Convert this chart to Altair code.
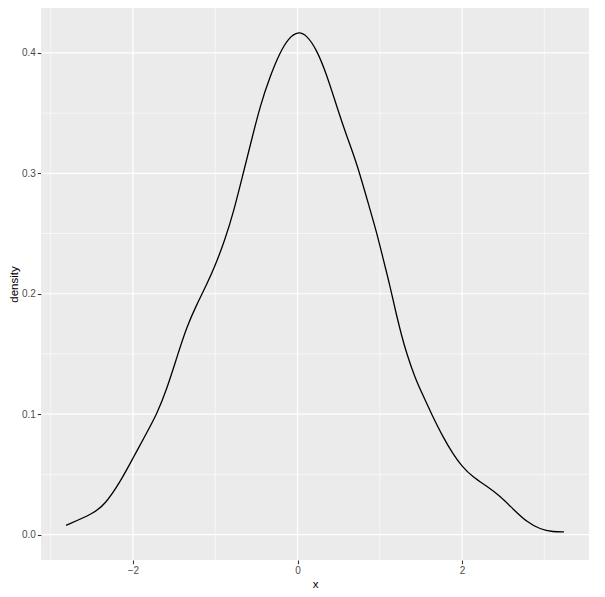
import altair as alt
import pandas as pd

# density curve
xs = [-2.814, -2.482, -2.340, -2.159, -2.003, -1.833, -1.711, -1.590, -1.468, -1.347,
      -1.225, -1.104, -1.003, -0.881, -0.780, -0.659, -0.557, -0.456, -0.334, -0.213,
      -0.112, 0.002, 0.112, 0.233, 0.355, 0.476, 0.598, 0.720, 0.881, 0.963,
      1.043, 1.104, 1.145, 1.206, 1.267, 1.327, 1.428, 1.510, 1.631, 1.772,
      1.894, 1.996, 2.137, 2.300, 2.461, 2.623, 2.786, 2.948, 3.109, 3.239]
ys = [0.0077, 0.0174, 0.0251, 0.0432, 0.0631, 0.0846, 0.0998, 0.1206, 0.1469, 0.1725,
      0.1911, 0.2077, 0.2229, 0.2451, 0.2672, 0.3004, 0.3280, 0.3557, 0.3806, 0.4005,
      0.4120, 0.4180, 0.4148, 0.4027, 0.3820, 0.3557, 0.3308, 0.3087, 0.2700, 0.2506,
      0.2285, 0.2119, 0.2000, 0.1814, 0.1648, 0.1502, 0.1303, 0.1178, 0.0998, 0.0805,
      0.0666, 0.0569, 0.0473, 0.0403, 0.0320, 0.0210, 0.0105, 0.0044, 0.0022, 0.0022]

x_major = [-2, 0, 2]
x_minor = [-3, -1, 1, 3]
y_major = [0.0, 0.1, 0.2, 0.3, 0.4]
y_minor = [0.05, 0.15, 0.25, 0.35]

x_domain = [-3.118, 3.543]
y_domain = [-0.0211, 0.4373]

W, H = 548, 552

xscale = alt.Scale(domain=x_domain, nice=False, zero=False)
yscale = alt.Scale(domain=y_domain, nice=False, zero=False)

axis_common = dict(
    grid=False, domain=False, tickColor="#333333", tickSize=3.7, tickWidth=1.1,
    labelColor="#4D4D4D", labelFontSize=10, labelFont="Liberation Sans",
    titleFont="Liberation Sans", titleFontSize=11.5, titleFontWeight="normal",
    titleColor="black", labelPadding=2,
)
xaxis = alt.Axis(values=x_major, format="d", titleX=W / 2, titleY=27,
                 titleBaseline="alphabetic", **axis_common)
yaxis = alt.Axis(values=y_major, format=".1f", titleX=-27, titleY=H / 2,
                 titleBaseline="middle", titleAngle=270, **axis_common)

curve = pd.DataFrame({"x": xs, "density": ys})


def vgrid(vals, width):
    return alt.Chart(pd.DataFrame({"v": vals})).mark_rule(
        color="white", strokeWidth=width
    ).encode(x=alt.X("v:Q", scale=xscale, title="x", axis=xaxis))


def hgrid(vals, width):
    return alt.Chart(pd.DataFrame({"v": vals})).mark_rule(
        color="white", strokeWidth=width
    ).encode(y=alt.Y("v:Q", scale=yscale, title="density", axis=yaxis))


line = alt.Chart(curve).mark_line(
    color="black", strokeWidth=1.3, interpolate="basis"
).encode(
    x=alt.X("x:Q", scale=xscale, title="x", axis=xaxis),
    y=alt.Y("density:Q", scale=yscale, title="density", axis=yaxis),
)

chart = alt.layer(
    vgrid(x_minor, 0.6), hgrid(y_minor, 0.6),
    vgrid(x_major, 1.2), hgrid(y_major, 1.2),
    line,
).properties(
    width=W, height=H,
    background="white",
    autosize=alt.AutoSizeParams(type="none"),
    padding={"left": 33, "top": 0, "right": 8, "bottom": 29},
).configure_view(fill="#EBEBEB", strokeWidth=0)

chart.save("out.html", embed_options={"renderer": "svg", "actions": False})
